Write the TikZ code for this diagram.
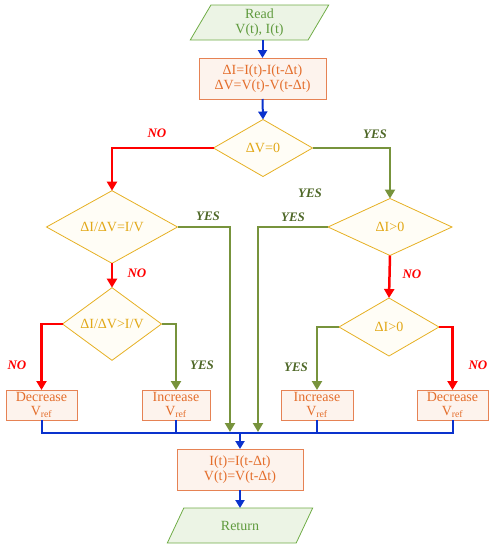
\documentclass[tikz,border=0pt]{standalone}
\usepackage{fontspec}
\setmainfont{Liberation Serif}
\usetikzlibrary{arrows.meta, positioning, shapes.geometric, calc}

\definecolor{ioline}{RGB}{112,173,71}
\definecolor{iofill}{RGB}{236,244,229}
\definecolor{iotext}{RGB}{96,155,62}
\definecolor{procline}{RGB}{230,130,84}
\definecolor{procfill}{RGB}{253,243,237}
\definecolor{proctext}{RGB}{228,110,44}
\definecolor{testline}{RGB}{230,176,34}
\definecolor{testfill}{RGB}{255,253,246}
\definecolor{testtext}{RGB}{226,168,24}
\definecolor{flowblue}{RGB}{10,50,205}
\definecolor{yesgreen}{RGB}{119,147,60}
\definecolor{yestext}{RGB}{79,104,40}
\definecolor{nored}{RGB}{255,0,0}

\begin{document}
\begin{tikzpicture}[
  x=1pt, y=-1pt,
  io/.style={trapezium, trapezium stretches=true, trapezium left angle=70, trapezium right angle=110, draw=ioline, fill=iofill, text=iotext, line width=0.8pt, minimum width=139pt, minimum height=35pt, align=center, inner sep=0pt, outer sep=0pt, font=\fontsize{14}{15.5}\selectfont},
  proc/.style={rectangle, draw=procline, fill=procfill, text=proctext, line width=0.8pt, align=center, inner sep=0pt, outer sep=0pt, font=\fontsize{14}{15.5}\selectfont},
  test/.style={diamond, draw=testline, fill=testfill, text=testtext, line width=0.8pt, inner sep=0pt, outer sep=0pt, font=\fontsize{14}{15.5}\selectfont},
  flow/.style={-{Triangle[length=8pt, width=9pt]}, line width=2pt, draw=flowblue},
  bus/.style={line width=2pt, draw=flowblue},
  yesline/.style={-{Triangle[length=9pt, width=10pt]}, line width=2.5pt, draw=yesgreen},
  noline/.style={-{Triangle[length=9pt, width=10pt]}, line width=2.5pt, draw=nored},
  yes/.style={font=\fontsize{13}{14}\selectfont\bfseries\itshape, text=yestext},
  no/.style={font=\fontsize{13}{14}\selectfont\bfseries\itshape, text=nored}
]
\useasboundingbox (0,0) rectangle (492,550);

% main column
\node[io] (read) at (259.5,22.5) {Read\\V(t), I(t)};
\node[proc, minimum width=127pt, minimum height=41pt] (calc) at (262.5,78.5) {ΔI=I(t)-I(t-Δt)\\ΔV=V(t)-V(t-Δt)};
\node[test, minimum width=99pt, minimum height=57pt] (dv0) at (263,148) {ΔV=0};

% left branch
\node[test, minimum width=131pt, minimum height=51pt] (eq) at (112,227) {ΔI/ΔV=I/V};
\node[test, minimum width=99pt, minimum height=54pt] (gt) at (112,324) {ΔI/ΔV>I/V};
\node[proc, minimum width=71pt, minimum height=30pt, font=\fontsize{14}{14}\selectfont] (dec1) at (41.5,405) {Decrease\\V\textsubscript{ref}};
\node[proc, minimum width=68pt, minimum height=30pt, font=\fontsize{14}{14}\selectfont] (inc1) at (176,405) {Increase\\V\textsubscript{ref}};

% right branch
\node[test, minimum width=124pt, minimum height=57pt] (di1) at (390,227) {ΔI>0};
\node[test, minimum width=100pt, minimum height=58pt] (di2) at (389,327) {ΔI>0};
\node[proc, minimum width=72pt, minimum height=30pt, font=\fontsize{14}{14}\selectfont] (inc2) at (317,405) {Increase\\V\textsubscript{ref}};
\node[proc, minimum width=71pt, minimum height=30pt, font=\fontsize{14}{14}\selectfont] (dec2) at (452.5,405) {Decrease\\V\textsubscript{ref}};

% bottom
\coordinate (busM) at (240,433);
\coordinate (j1) at (230,432);
\coordinate (j2) at (258,432);
\node[proc, minimum width=126pt, minimum height=41pt] (upd) at (240,469.5) {I(t)=I(t-Δt)\\V(t)=V(t-Δt)};
\node[io, trapezium left angle=59, trapezium right angle=121, minimum width=146pt, below=18pt of upd] (ret) {Return};

\draw[flow] (calc.north |- read.south) -- (calc.north);
\draw[flow] (calc.south) -- (dv0.north);

\draw[noline] (dv0.west) -| (eq.north);
\draw[yesline] (dv0.east) -| (di1.north);
\draw[yesline] (eq.east) -| (j1);
\draw[noline] (eq.south) -- (gt.north);
\draw[noline] (gt.west) -| (dec1.north);
\draw[yesline] (gt.east) -| (inc1.north);
\draw[yesline] (di1.west) -| (j2);
\draw[noline] (di1.south) -- (di2.north);
\draw[yesline] (di2.west) -| (inc2.north);
\draw[noline] (di2.east) -| (dec2.north);

\draw[bus] (dec1.south) |- (busM) -| (dec2.south);
\draw[bus] (inc1.south) -- (inc1.south |- busM);
\draw[bus] (inc2.south) -- (inc2.south |- busM);
\draw[flow] (busM) -- (upd.north);
\draw[flow] (upd.south) -- (ret.north);

\node[no] (l1) at (157,133) {NO};
\node[yes] (l2) at (375,134) {YES};
\node[yes] (l3) at (208,216) {YES};
\node[yes] (l4) at (310,193) {YES};
\node[yes] (l5) at (293,217) {YES};
\node[no] (l6) at (137,273) {NO};
\node[no] (l7) at (412,274) {NO};
\node[no] (l8) at (17,365) {NO};
\node[yes] (l9) at (202,365) {YES};
\node[yes] (l10) at (296,367) {YES};
\node[no] (l11) at (478,365) {NO};
\end{tikzpicture}
\end{document}
